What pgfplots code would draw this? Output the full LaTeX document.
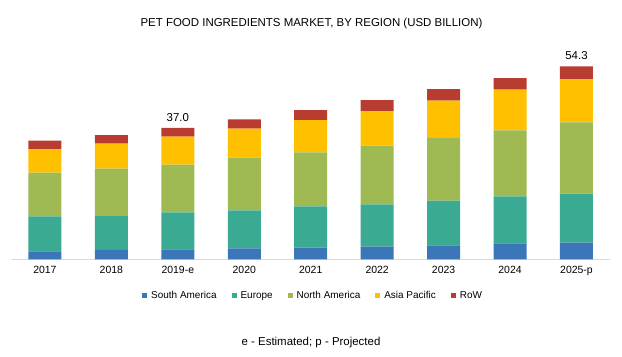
\documentclass[border=0pt]{standalone}
\usepackage{pgfplots}
\usepackage{pgfplotstable}
\pgfplotsset{compat=1.18}
\usepackage{fontspec}
\setmainfont{Liberation Sans}
\definecolor{csa}{HTML}{3B76B8}
\definecolor{ceu}{HTML}{3AAA93}
\definecolor{cna}{HTML}{9FBA52}
\definecolor{cap}{HTML}{FFC000}
\definecolor{crow}{HTML}{B83C30}
\pgfplotstableread{
x SA EU NA AP RoW
0 2.25 9.85 12.26 6.58 2.42
1 2.62 9.76 13.10 7.03 2.45
2 2.81 10.41 13.39 7.88 2.51
3 3.09 10.69 14.80 8.16 2.64
4 3.26 11.65 15.19 9.09 2.81
5 3.54 11.93 16.48 9.76 3.09
6 3.94 12.55 17.64 10.49 3.29
7 4.50 13.22 18.57 11.42 3.29
8 4.67 13.78 20.08 12.18 3.59
}\data
\begin{document}
\begin{tikzpicture}[x=1bp,y=1bp]
\useasboundingbox (0,0) rectangle (622,356);
\node at (311.5,332) {\fontsize{11.5}{13}\selectfont PET FOOD INGREDIENTS MARKET, BY REGION (USD BILLION)};
\node at (311,13) {\fontsize{11.5}{14}\selectfont e - Estimated; p - Projected};
\begin{axis}[
  at={(11.7bp,96.7bp)}, anchor=south west,
  scale only axis, width=598bp, height=219.3bp,
  ybar stacked, bar width=33bp,
  ymin=0, ymax=61.7, xmin=-0.5, xmax=8.5,
  axis x line*=bottom, axis y line=none,
  x axis line style={draw=black!15, line width=1.2bp},
  xtick={0,...,8},
  xticklabels={2017,2018,2019-e,2020,2021,2022,2023,2024,2025-p},
  xtick style={draw=none},
  ticklabel style={font=\fontsize{10.5}{12}\selectfont},
  /pgf/number format/assume math mode=true,
  xticklabel style={yshift=-3bp},
  legend columns=5,
  legend style={draw=none, at={(0.504,-0.167)}, anchor=center,
    font=\fontsize{10}{12}\selectfont,
    /tikz/every odd column/.append style={column sep=2bp},
    /tikz/every even column/.append style={column sep=13bp}},
  legend image code/.code={\fill[#1] (0bp,-2.5bp) rectangle (5bp,2.5bp);},
  every axis plot/.append style={draw=none},
]
\addplot[fill=csa] table[x=x,y=SA]{\data};
\addplot[fill=ceu] table[x=x,y=EU]{\data};
\addplot[fill=cna] table[x=x,y=NA]{\data};
\addplot[fill=cap] table[x=x,y=AP]{\data};
\addplot[fill=crow] table[x=x,y=RoW]{\data};
\legend{South America,Europe,North America,Asia Pacific,RoW}
\node[font=\fontsize{11.5}{13}\selectfont, anchor=south] at (axis cs:2,37.0) [yshift=3bp] {37.0};
\node[font=\fontsize{11.5}{13}\selectfont, anchor=south] at (axis cs:8,54.3) [yshift=3bp] {54.3};
\end{axis}
\end{tikzpicture}
\end{document}
